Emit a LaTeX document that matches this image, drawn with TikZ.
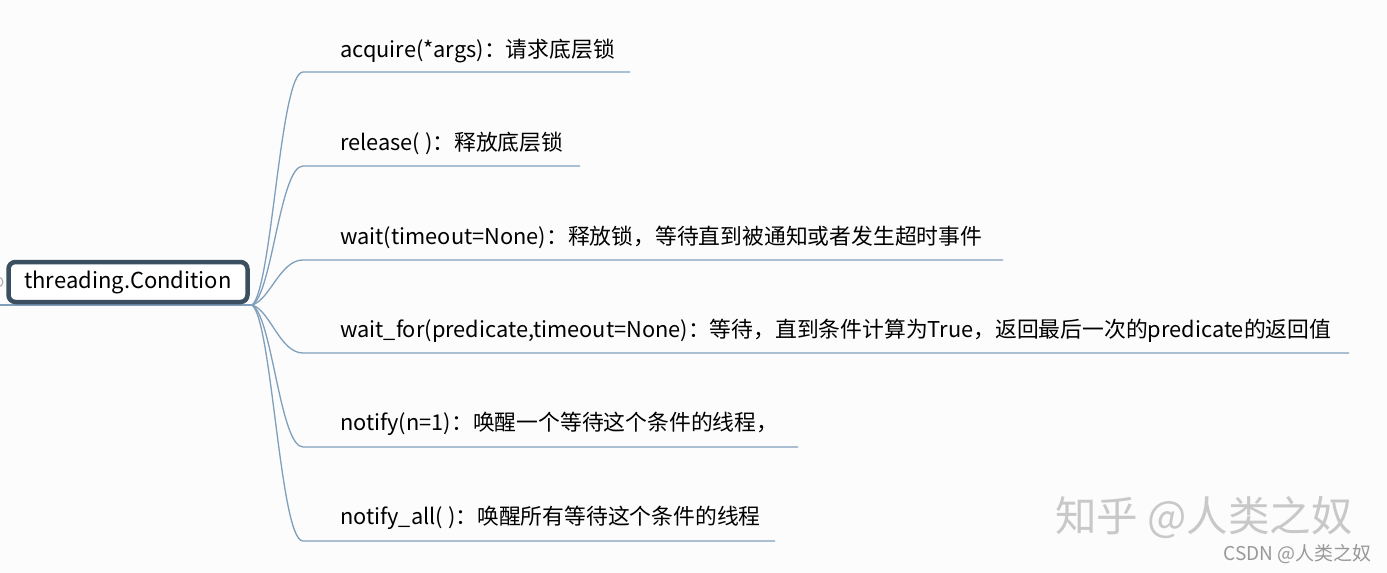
\documentclass[tikz,border=0pt]{standalone}
\usepackage{fontspec}
\setmainfont{Noto Sans CJK SC}
\begin{document}
\begin{tikzpicture}[x=1pt,y=-1pt,
  branch/.style={draw=lineblue,line width=1.3pt},
  leaf/.style={anchor=base west,inner sep=0pt,font=\fontsize{21.8}{24}\selectfont,text=black},
  rootbox/.style={draw=rootborder,line width=4.5pt,rounded corners=7pt,fill=white,minimum width=239pt,minimum height=40pt,font=\fontsize{22}{24}\selectfont,inner sep=0pt}]
\definecolor{lineblue}{HTML}{7F9FBA}
\definecolor{rootborder}{HTML}{3B4F61}
\definecolor{wm}{HTML}{C8C8C8}
\useasboundingbox[fill=white!98!gray] (0,0) rectangle (1387,573);
\clip (0,0) rectangle (1387,573);
% parent link on the left
\coordinate (lft) at (0,305);
\coordinate (hub) at (252,305);
\draw[branch] (lft) -- (hub);
\draw[draw=gray!70,line width=1pt] (-2,282) circle (5);
\node[rootbox] (root) at (128,282) {threading.Condition};
% branches
\foreach \i/\yy/\xe in {1/72/630,2/166/580,3/260/1003,4/353/1349,5/447/798,6/541/775}{
  \coordinate (s\i) at (303,\yy);
  \coordinate (e\i) at (\xe,\yy);
}
\draw[branch] (hub) .. controls (272,290) and (280,72) .. (s1) -- (e1);
\draw[branch] (hub) .. controls (272,295) and (280,166) .. (s2) -- (e2);
\draw[branch] (hub) .. controls (270,300) and (280,260) .. (s3) -- (e3);
\draw[branch] (hub) .. controls (270,310) and (280,353) .. (s4) -- (e4);
\draw[branch] (hub) .. controls (272,315) and (280,447) .. (s5) -- (e5);
\draw[branch] (hub) .. controls (272,320) and (280,541) .. (s6) -- (e6);
% leaf texts
\node[leaf] (t1) at (340,57) {acquire(*args)：请求底层锁};
\node[leaf] (t2) at (340,150) {release( )：释放底层锁};
\node[leaf] (t3) at (340,244) {wait(timeout=None)：释放锁，等待直到被通知或者发生超时事件};
\node[leaf] (t4) at (340,337) {wait\_for(predicate,timeout=None)：等待，直到条件计算为True，返回最后一次的predicate的返回值};
\node[leaf] (t5) at (340,430) {notify(n=1)：唤醒一个等待这个条件的线程，};
\node[leaf] (t6) at (340,524) {notify\_all( )：唤醒所有等待这个条件的线程};
% watermarks
\node[anchor=base west,inner sep=0pt,text=wm,font=\fontsize{41.5}{44}\selectfont] (w1) at (1055,531) {知乎 @人类之奴};
\node[anchor=base east,inner sep=0pt,text=gray!80,font=\fontsize{19}{21}\selectfont] (w2) at (1372,560) {CSDN @人类之奴};
\end{tikzpicture}
\end{document}
